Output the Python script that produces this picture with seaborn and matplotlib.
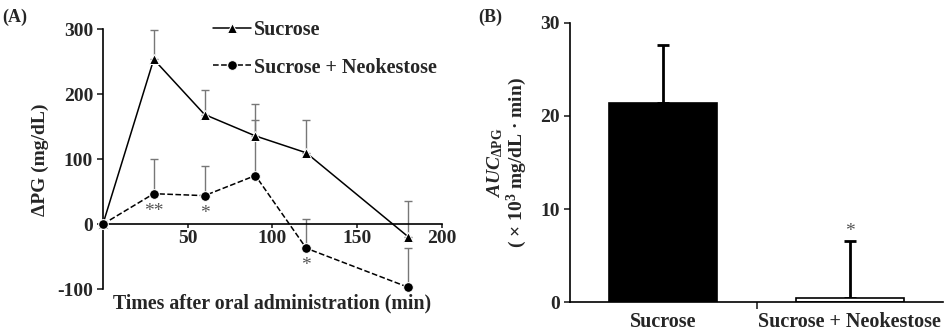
import numpy as np
import pandas as pd
import seaborn as sns
import matplotlib.pyplot as plt

# data
times = [0, 30, 60, 90, 120, 180]
sucrose_mean = [0, 254, 169, 136, 110, -19]
sucrose_sd = [0, 45, 38, 49, 50, 54]
neo_mean = [0, 47, 44, 75, -37, -97]
neo_sd = [0, 54, 45, 85, 45, 61]
star_times = [30, 60, 120]
star_marks = ['**', '*', '*']

groups = ['Sucrose', 'Sucrose + Neokestose']
auc_mean = [21.4, 0.4]
auc_sd = [6.2, 6.2]

sns.set_style('white')
plt.rcParams['font.family'] = ['Liberation Serif', 'DejaVu Serif']
plt.rcParams['font.weight'] = 'bold'
plt.rcParams['axes.unicode_minus'] = False
plt.rcParams['mathtext.fontset'] = 'custom'
plt.rcParams['mathtext.rm'] = 'Liberation Serif:bold'
plt.rcParams['mathtext.it'] = 'Liberation Serif:italic:bold'
plt.rcParams['mathtext.bf'] = 'Liberation Serif:bold'
plt.rcParams['mathtext.bfit'] = 'Liberation Serif:italic:bold'

fig = plt.figure(figsize=(9.44, 3.35), dpi=100)
ax1 = fig.add_axes([0.109, 0.137, 0.359, 0.775])
ax2 = fig.add_axes([0.604, 0.098, 0.395, 0.834])

"""
(A) time course
"""
df = pd.DataFrame({'t': times, 'suc': sucrose_mean, 'neo': neo_mean})
ax1.errorbar(times, sucrose_mean, yerr=[np.zeros(6), sucrose_sd], fmt='none',
             ecolor='#777777', elinewidth=1, capsize=3, capthick=1, zorder=1)
ax1.errorbar(times, neo_mean, yerr=[np.zeros(6), neo_sd], fmt='none',
             ecolor='#777777', elinewidth=1, capsize=3, capthick=1, zorder=1)
sns.lineplot(data=df, x='t', y='suc', ax=ax1, color='black', lw=1.1,
             marker='^', markersize=7, label='Sucrose', zorder=3,
             clip_on=False)
sns.lineplot(data=df, x='t', y='neo', ax=ax1, color='black', lw=1.1,
             linestyle='--', marker='o', markersize=7,
             label='Sucrose + Neokestose', zorder=3, clip_on=False)

for t, s in zip(star_times, star_marks):
    y = neo_mean[times.index(t)]
    ax1.text(t, y - 14, s, ha='center', va='top', fontsize=14,
             color='#555555', fontweight='normal')

ax1.set_xlim(0, 200)
ax1.set_ylim(-100, 300)
ax1.set_xticks([50, 100, 150, 200])
ax1.set_yticks([-100, 0, 100, 200, 300])
ax1.spines['right'].set_visible(False)
ax1.spines['top'].set_visible(False)
ax1.spines['bottom'].set_position(('data', 0))
for sp in ['left', 'bottom']:
    ax1.spines[sp].set_color('black')
    ax1.spines[sp].set_linewidth(1.2)
ax1.tick_params(axis='y', left=True, length=4, width=1.2, labelsize=14,
                pad=3)
ax1.tick_params(axis='x', bottom=True, length=3, width=1.2, labelsize=14,
                pad=1)
ax1.set_xlabel('Times after oral administration (min)', fontsize=14.3,
               fontweight='bold')
ax1.xaxis.set_label_coords(0.5, -0.015)
ax1.set_ylabel('ΔPG (mg/dL)', fontsize=14, fontweight='bold', labelpad=6)
ax1.legend(loc='upper left', bbox_to_anchor=(0.325, 1.035), frameon=False,
           fontsize=14.5, handlelength=1.9, labelspacing=0.85,
           handletextpad=0.15, borderpad=0, borderaxespad=0)

"""
(B) AUC bars
"""
bar_df = pd.DataFrame({'group': groups, 'auc': auc_mean})
sns.barplot(data=bar_df, x='group', y='auc', ax=ax2, width=0.58,
            palette=['black', 'white'], hue='group', legend=False,
            edgecolor='black', linewidth=1.2)
ax2.errorbar([0, 1], auc_mean, yerr=[np.zeros(2), auc_sd], fmt='none',
             ecolor='black', elinewidth=2, capsize=4, capthick=2, zorder=0)
ax2.text(1, auc_mean[1] + auc_sd[1] + 0.1, '*', ha='center', va='bottom',
         fontsize=14, color='#555555', fontweight='normal')

ax2.set_xlim(-0.5, 1.5)
ax2.set_ylim(0, 30)
ax2.set_yticks([0, 10, 20, 30])
ax2.set_xticks([0.5], minor=True)
ax2.spines['right'].set_visible(False)
ax2.spines['top'].set_visible(False)
for sp in ['left', 'bottom']:
    ax2.spines[sp].set_color('black')
    ax2.spines[sp].set_linewidth(1.2)
ax2.tick_params(axis='y', left=True, length=4, width=1.2, labelsize=14)
ax2.tick_params(axis='x', which='major', length=0, labelsize=14.5, pad=7)
ax2.tick_params(axis='x', which='minor', bottom=True, length=5, width=1.2)
ax2.set_xlabel('')
ax2.set_ylabel('$\\mathbfit{AUC}_{\\mathbf{\\Delta PG}}$\n'
               '( × 10$^{\\mathbf{3}}$ mg/dL · min)', fontsize=14,
               fontweight='bold', linespacing=1.0, labelpad=8)

fig.text(0.002, 0.975, '(A)', fontsize=13, fontweight='bold', va='top')
fig.text(0.507, 0.975, '(B)', fontsize=13, fontweight='bold', va='top')

fig.savefig('out.png', dpi=100)
